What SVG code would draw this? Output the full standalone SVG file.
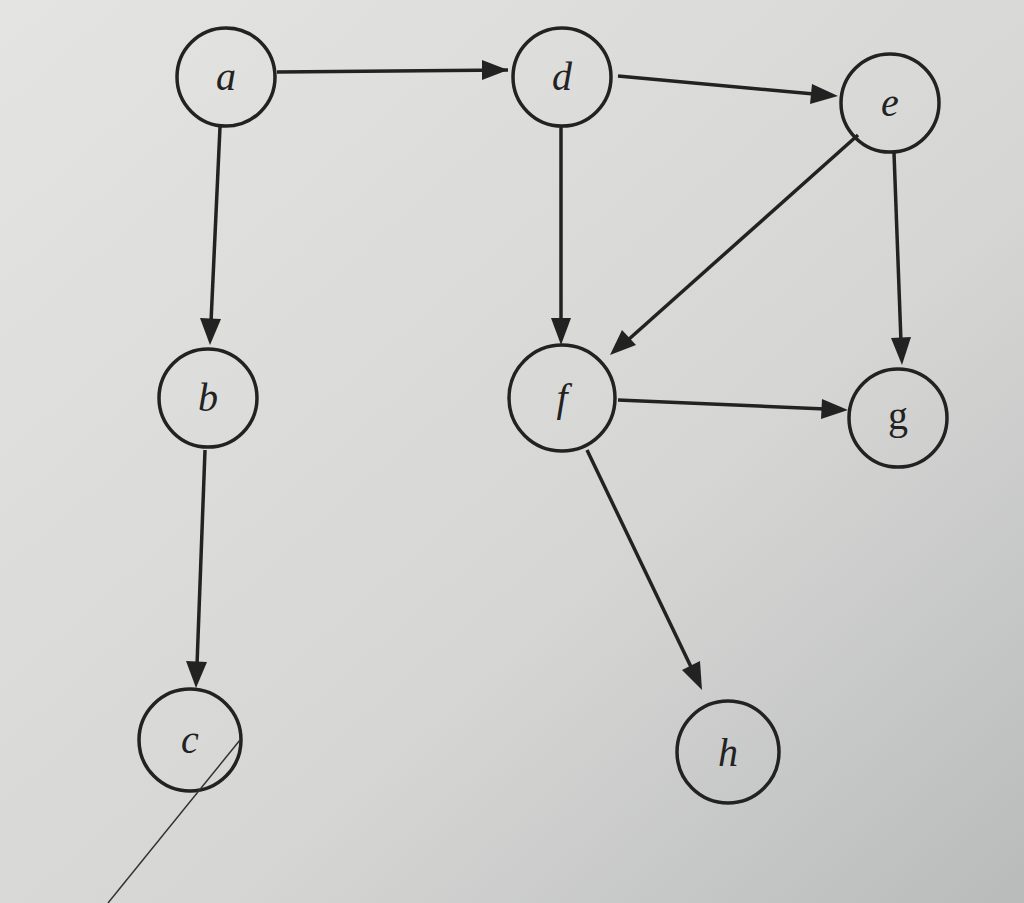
<svg xmlns="http://www.w3.org/2000/svg" width="1024" height="903" viewBox="0 0 1024 903">
<defs>
<linearGradient id="bg" x1="0" y1="0" x2="1" y2="1">
<stop offset="0" stop-color="#e4e4e2"/><stop offset="0.6" stop-color="#d6d7d5"/><stop offset="1" stop-color="#b9bbbb"/>
</linearGradient>
<marker id="ah" viewBox="0 0 10 10" refX="10" refY="5" markerWidth="8" markerHeight="8" markerUnits="userSpaceOnUse" orient="auto">
<path d="M0,0 L10,5 L0,10 z" fill="#222"/>
</marker>
<style>
.n circle{fill:none;stroke:#222;stroke-width:3.5}
.n text{font-family:"Liberation Serif",serif;font-style:italic;font-size:40px;fill:#222;text-anchor:middle}
#edges line{stroke:#222;stroke-width:3.5;marker-end:url(#ah)}
#edges marker{}
</style>
</defs>
<marker id="ah2"/>
<rect width="1024" height="903" fill="url(#bg)"/>
<g id="edges">
<line x1="277" y1="72" x2="508" y2="70" style="marker-end:none"/><path d="M508,70 L482,60 L482,80 z" fill="#222"/>
<line x1="618" y1="76" x2="814" y2="94" style="marker-end:none"/><path d="M838,96 L812,84 L810,104 z" fill="#222"/>
<line x1="220" y1="127" x2="211" y2="322" style="marker-end:none"/><path d="M210,345 L200,318 L221,319 z" fill="#222"/>
<line x1="561" y1="127" x2="561" y2="322" style="marker-end:none"/><path d="M561,345 L551,318 L571,318 z" fill="#222"/>
<line x1="858" y1="135" x2="628" y2="340" style="marker-end:none"/><path d="M610,355 L622,330 L636,345 z" fill="#222"/>
<line x1="894" y1="153" x2="901" y2="342" style="marker-end:none"/><path d="M902,365 L891,338 L911,337 z" fill="#222"/>
<line x1="618" y1="400" x2="825" y2="409" style="marker-end:none"/><path d="M848,410 L822,399 L821,419 z" fill="#222"/>
<line x1="205" y1="450" x2="197" y2="665" style="marker-end:none"/><path d="M196,688 L186,661 L207,662 z" fill="#222"/>
<line x1="587" y1="450" x2="692" y2="669" style="marker-end:none"/><path d="M702,690 L682,670 L700,661 z" fill="#222"/>
</g>
<g id="a" class="n"><circle cx="226" cy="77" r="49"/><text x="226" y="90">a</text></g>
<g id="d" class="n"><circle cx="562" cy="77" r="49"/><text x="562" y="90">d</text></g>
<g id="e" class="n"><circle cx="890" cy="103" r="49"/><text x="890" y="116">e</text></g>
<g id="b" class="n"><circle cx="208" cy="398" r="49"/><text x="208" y="411">b</text></g>
<g id="f" class="n"><circle cx="562" cy="398" r="53"/><text x="562" y="411">f</text></g>
<g id="g" class="n"><circle cx="898" cy="418" r="49"/><text x="898" y="429" style="font-style:normal">g</text></g>
<g id="c" class="n"><circle cx="190" cy="740" r="51"/><text x="190" y="753">c</text></g>
<g id="h" class="n"><circle cx="728" cy="752" r="51"/><text x="728" y="766">h</text></g>
<line x1="108" y1="903" x2="240" y2="740" stroke="#333" stroke-width="1.5"/>
</svg>
